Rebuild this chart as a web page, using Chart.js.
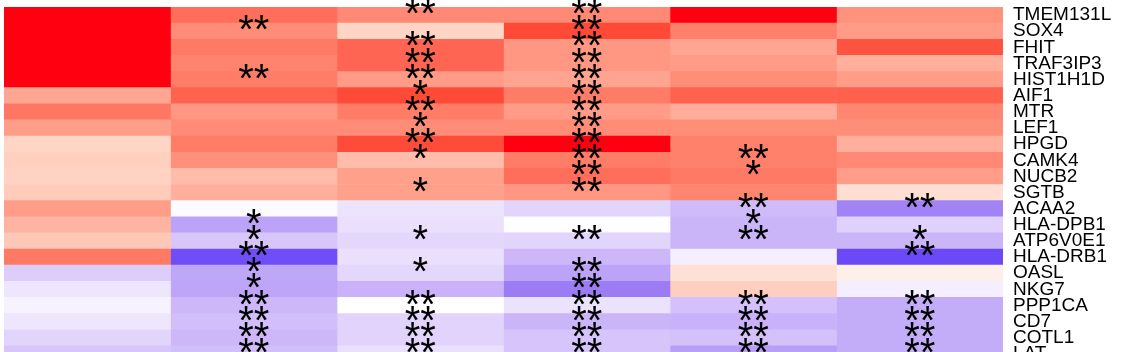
<!DOCTYPE html>
<html>
<head>
<meta charset="utf-8">
<script src="https://cdn.jsdelivr.net/npm/chart.js@4"></script>
<style>
html, body { margin: 0; padding: 0; background: #fff; overflow: hidden; }
#wrap { width: 1144px; height: 352px; overflow: hidden; }
</style>
</head>
<body>
<div id="wrap"><canvas id="heatmap" width="1144" height="370"></canvas></div>
<script>
// row labels, top to bottom
const genes = ['TMEM131L', 'SOX4', 'FHIT', 'TRAF3IP3', 'HIST1H1D', 'AIF1', 'MTR', 'LEF1', 'HPGD', 'CAMK4', 'NUCB2',
  'SGTB', 'ACAA2', 'HLA-DPB1', 'ATP6V0E1', 'HLA-DRB1', 'OASL', 'NKG7', 'PPP1CA', 'CD7', 'COTL1', 'LAT'];

// scaled values, one array per column (left to right)
const group1 = [1, 1, 1, 1, 1, 0.39, 0.6, 0.43, 0.18, 0.2, 0.19, 0.22, 0.43, 0.33, 0.24, 0.59, -0.24, -0.12, -0.06, -0.12, -0.2, -0.27];
const group2 = [0.64, 0.51, 0.59, 0.55, 0.58, 0.69, 0.46, 0.51, 0.58, 0.49, 0.29, 0.35, -0.02, -0.43, -0.27, -0.87, -0.41, -0.42, -0.34, -0.31, -0.34, -0.31];
const group3 = [0.52, 0.18, 0.68, 0.68, 0.44, 0.8, 0.58, 0.51, 0.79, 0.29, 0.42, 0.42, -0.13, -0.15, -0.19, -0.15, -0.19, -0.36, 0, -0.21, -0.21, -0.15];
const group4 = [0.52, 0.8, 0.46, 0.46, 0.4, 0.58, 0.44, 0.51, 1, 0.58, 0.64, 0.46, -0.2, -0.01, -0.2, -0.34, -0.43, -0.6, -0.14, -0.35, -0.28, -0.28];
const group5 = [1, 0.56, 0.39, 0.44, 0.5, 0.69, 0.36, 0.5, 0.56, 0.56, 0.59, 0.54, -0.32, -0.35, -0.35, -0.08, 0.13, 0.21, -0.3, -0.36, -0.3, -0.45];
const group6 = [0.48, 0.44, 0.76, 0.35, 0.43, 0.7, 0.53, 0.5, 0.35, 0.52, 0.43, 0.14, -0.57, -0.22, -0.35, -0.9, 0.07, -0.08, -0.39, -0.39, -0.39, -0.39];

// significance marks per column
const stars1 = ['', '', '', '', '', '', '', '', '', '', '', '', '', '', '', '', '', '', '', '', '', ''];
const stars2 = ['', '**', '', '', '**', '', '', '', '', '', '', '', '', '*', '*', '**', '*', '*', '**', '**', '**', '**'];
const stars3 = ['**', '', '**', '**', '**', '*', '**', '*', '**', '*', '', '*', '', '', '*', '', '*', '', '**', '**', '**', '**'];
const stars4 = ['**', '**', '**', '**', '**', '**', '**', '**', '**', '**', '**', '**', '', '', '**', '', '**', '**', '**', '**', '**', '**'];
const stars5 = ['', '', '', '', '', '', '', '', '', '**', '*', '', '**', '*', '**', '', '', '', '**', '**', '**', '**'];
const stars6 = ['', '', '', '', '', '', '', '', '', '', '', '', '**', '', '*', '**', '', '', '**', '**', '**', '**'];

const groups = [group1, group2, group3, group4, group5, group6];
const stars = [stars1, stars2, stars3, stars4, stars5, stars6];

// colour ramp: blue-violet -> white -> red
var posStops = [[0, [255, 255, 255]], [0.2, [255, 208, 192]], [0.5, [255, 142, 120]], [0.8, [255, 74, 56]], [1, [255, 0, 16]]];
var negStops = [[0, [255, 255, 255]], [0.3, [212, 192, 250]], [0.6, [156, 124, 244]], [1, [90, 56, 248]]];

function cellColor(v) {
    var stops = v >= 0 ? posStops : negStops;
    var t = Math.min(Math.abs(v), 1);
    for (var i = 1; i < stops.length; i++) {
        if (t <= stops[i][0]) {
            var a = stops[i - 1], b = stops[i];
            var f = (t - a[0]) / (b[0] - a[0]);
            var rgb = a[1].map((c, k) => Math.round(c + (b[1][k] - c) * f));
            return 'rgb(' + rgb.join(',') + ')';
        }
    }
    return 'rgb(' + stops[stops.length - 1][1].join(',') + ')';
}

var starPlugin = {
    id: 'stars',
    afterDatasetsDraw(chart) {
        var c = chart.ctx, xs = chart.scales.x, ys = chart.scales.y;
        c.save();
        c.fillStyle = '#000';
        c.font = '40px "Liberation Sans"';
        c.textAlign = 'center';
        c.textBaseline = 'middle';
        stars.forEach((col, i) => col.forEach((s, r) => {
            if (s) c.fillText(s, xs.getPixelForValue(i + 0.5), ys.getPixelForValue(r) + 1);
        }));
        c.restore();
    }
};

var ctx = document.getElementById('heatmap');
new Chart(ctx, {
    type: 'bar',
    data: {
        labels: genes,
        datasets: groups.map((vals, i) => ({
            label: 'group' + (i + 1),
            data: vals.map(() => 1),
            backgroundColor: vals.map(cellColor),
            borderWidth: 0,
            barPercentage: 1,
            categoryPercentage: 1
        }))
    },
    options: {
        indexAxis: 'y',
        responsive: false,
        animation: false,
        layout: { padding: { left: 4, right: 0, top: 7, bottom: 8 } },
        plugins: { legend: { display: false }, tooltip: { enabled: false } },
        scales: {
            x: { stacked: true, min: 0, max: 6, display: false },
            y: {
                stacked: true,
                position: 'right',
                grid: { display: false, drawTicks: false },
                border: { display: false },
                ticks: { color: '#000', padding: 10, autoSkip: false, font: { family: 'Liberation Sans', size: 19 } },
                afterFit(scale) {
                    scale.width = 141;
                    scale.paddingTop = 0;
                    scale.paddingBottom = 0;
                }
            }
        }
    },
    plugins: [starPlugin]
});
</script>
</body>
</html>
